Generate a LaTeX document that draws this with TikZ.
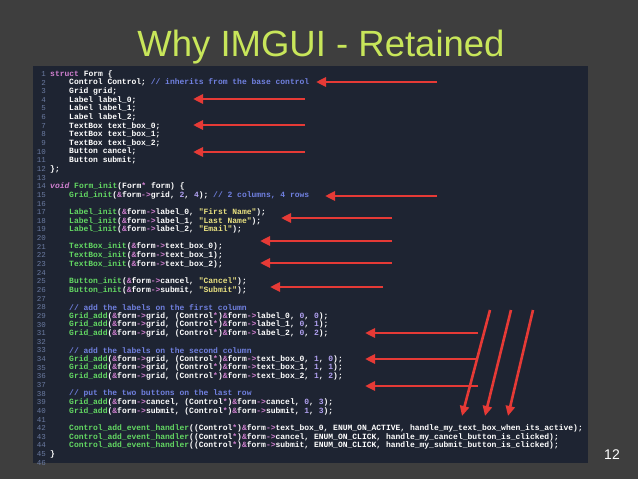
\documentclass[tikz,border=0pt]{standalone}
\usepackage{fontspec}
\setmainfont{Liberation Sans}
\setmonofont{Liberation Mono}
\usetikzlibrary{arrows.meta}
\definecolor{bg}{HTML}{3E3E3E}
\definecolor{panel}{HTML}{1E2432}
\definecolor{ttl}{HTML}{C8E65A}
\definecolor{fn}{HTML}{63D863}
\definecolor{kw}{HTML}{D080D0}
\definecolor{cm}{HTML}{7080E0}
\definecolor{st}{HTML}{E8E080}
\definecolor{nu}{HTML}{B0A0F0}
\definecolor{ln}{HTML}{6A7AA0}
\definecolor{arr}{HTML}{E63A36}
\newcommand\zF[1]{\textcolor{fn}{#1}}
\newcommand\zK[1]{\textcolor{kw}{#1}}
\newcommand\zC[1]{\textcolor{cm}{#1}}
\newcommand\zS[1]{\textcolor{st}{#1}}
\newcommand\zN[1]{\textcolor{nu}{#1}}
\newcommand\zA{\zK{\&}}
\newcommand\zP{\zK{->}}
\newcommand\cl[3]{\node[lnum] (n#1) at (46,{74+(#1-1)*8.64}) {#1};
  \node[code] (c#1) at (#2,{74+(#1-1)*8.64}) {#3};}
\newcommand\cn[1]{\node[lnum] (n#1) at (46,{74+(#1-1)*8.64}) {#1};}
\begin{document}
\begin{tikzpicture}[x=1pt,y=-1pt,
  lnum/.style={anchor=east,inner sep=0pt,font=\ttfamily\fontsize{7.5}{8}\selectfont,text=ln},
  code/.style={anchor=west,inner sep=0pt,font=\ttfamily\bfseries\fontsize{8}{8}\selectfont,text=white},
  arrow/.style={draw=arr,line width=2.6pt,-{Triangle[length=10pt,width=9pt]}}]
\fill[bg] (0,0) rectangle (638,479);
\useasboundingbox (0,0) rectangle (638,479);
\fill[panel] (33,66) rectangle (588,463);
\node[text=ttl,font=\fontsize{36.5}{38}\selectfont] (title) at (321,47) {Why IMGUI - Retained};
\node[text=white,font=\fontsize{14}{16}\selectfont] (page) at (612,455) {12};
\cl{1}{50}{\zK{struct} Form \{}
\cl{2}{69}{Control Control; \zC{// inherits from the base control}}
\cl{3}{69}{Grid grid;}
\cl{4}{69}{Label label\_0;}
\cl{5}{69}{Label label\_1;}
\cl{6}{69}{Label label\_2;}
\cl{7}{69}{TextBox text\_box\_0;}
\cl{8}{69}{TextBox text\_box\_1;}
\cl{9}{69}{TextBox text\_box\_2;}
\cl{10}{69}{Button cancel;}
\cl{11}{69}{Button submit;}
\cl{12}{50}{\};}
\cn{13}
\cl{14}{50}{\zK{\itshape void} \zF{Form\_init}(Form\zK{*} form) \{}
\cl{15}{69}{\zF{Grid\_init}(\zA form\zP grid, \zN{2}, \zN{4}); \zC{// 2 columns, 4 rows}}
\cn{16}
\cl{17}{69}{\zF{Label\_init}(\zA form\zP label\_0, \zS{"First Name"});}
\cl{18}{69}{\zF{Label\_init}(\zA form\zP label\_1, \zS{"Last Name"});}
\cl{19}{69}{\zF{Label\_init}(\zA form\zP label\_2, \zS{"Email"});}
\cn{20}
\cl{21}{69}{\zF{TextBox\_init}(\zA form\zP text\_box\_0);}
\cl{22}{69}{\zF{TextBox\_init}(\zA form\zP text\_box\_1);}
\cl{23}{69}{\zF{TextBox\_init}(\zA form\zP text\_box\_2);}
\cn{24}
\cl{25}{69}{\zF{Button\_init}(\zA form\zP cancel, \zS{"Cancel"});}
\cl{26}{69}{\zF{Button\_init}(\zA form\zP submit, \zS{"Submit"});}
\cn{27}
\cl{28}{69}{\zC{// add the labels on the first column}}
\cl{29}{69}{\zF{Grid\_add}(\zA form\zP grid, (Control\zK{*})\zA form\zP label\_0, \zN{0}, \zN{0});}
\cl{30}{69}{\zF{Grid\_add}(\zA form\zP grid, (Control\zK{*})\zA form\zP label\_1, \zN{0}, \zN{1});}
\cl{31}{69}{\zF{Grid\_add}(\zA form\zP grid, (Control\zK{*})\zA form\zP label\_2, \zN{0}, \zN{2});}
\cn{32}
\cl{33}{69}{\zC{// add the labels on the second column}}
\cl{34}{69}{\zF{Grid\_add}(\zA form\zP grid, (Control\zK{*})\zA form\zP text\_box\_0, \zN{1}, \zN{0});}
\cl{35}{69}{\zF{Grid\_add}(\zA form\zP grid, (Control\zK{*})\zA form\zP text\_box\_1, \zN{1}, \zN{1});}
\cl{36}{69}{\zF{Grid\_add}(\zA form\zP grid, (Control\zK{*})\zA form\zP text\_box\_2, \zN{1}, \zN{2});}
\cn{37}
\cl{38}{69}{\zC{// put the two buttons on the last row}}
\cl{39}{69}{\zF{Grid\_add}(\zA form\zP cancel, (Control\zK{*})\zA form\zP cancel, \zN{0}, \zN{3});}
\cl{40}{69}{\zF{Grid\_add}(\zA form\zP submit, (Control\zK{*})\zA form\zP submit, \zN{1}, \zN{3});}
\cn{41}
\cl{42}{69}{\zF{Control\_add\_event\_handler}((Control\zK{*})\zA form\zP text\_box\_0, ENUM\_ON\_ACTIVE, handle\_my\_text\_box\_when\_its\_active);}
\cl{43}{69}{\zF{Control\_add\_event\_handler}((Control\zK{*})\zA form\zP cancel, ENUM\_ON\_CLICK, handle\_my\_cancel\_button\_is\_clicked);}
\cl{44}{69}{\zF{Control\_add\_event\_handler}((Control\zK{*})\zA form\zP submit, ENUM\_ON\_CLICK, handle\_my\_submit\_button\_is\_clicked);}
\cl{45}{50}{\}}
\cn{46}
% arrows
\draw[arrow] (437,82) -- (316,82);
\draw[arrow] (305,99) -- (193,99);
\draw[arrow] (305,125) -- (193,125);
\draw[arrow] (305,152) -- (193,152);
\draw[arrow] (437,196) -- (325,196);
\draw[arrow] (392,218) -- (281,218);
\draw[arrow] (392,241) -- (260,241);
\draw[arrow] (392,263) -- (260,263);
\draw[arrow] (383,287) -- (270,287);
\draw[arrow] (478,333) -- (365,333);
\draw[arrow] (478,359) -- (365,359);
\draw[arrow] (478,386) -- (365,386);
\draw[arrow] (490,310) -- (462,416);
\draw[arrow] (511,310) -- (485,416);
\draw[arrow] (533,310) -- (508,416);
\end{tikzpicture}
\end{document}
